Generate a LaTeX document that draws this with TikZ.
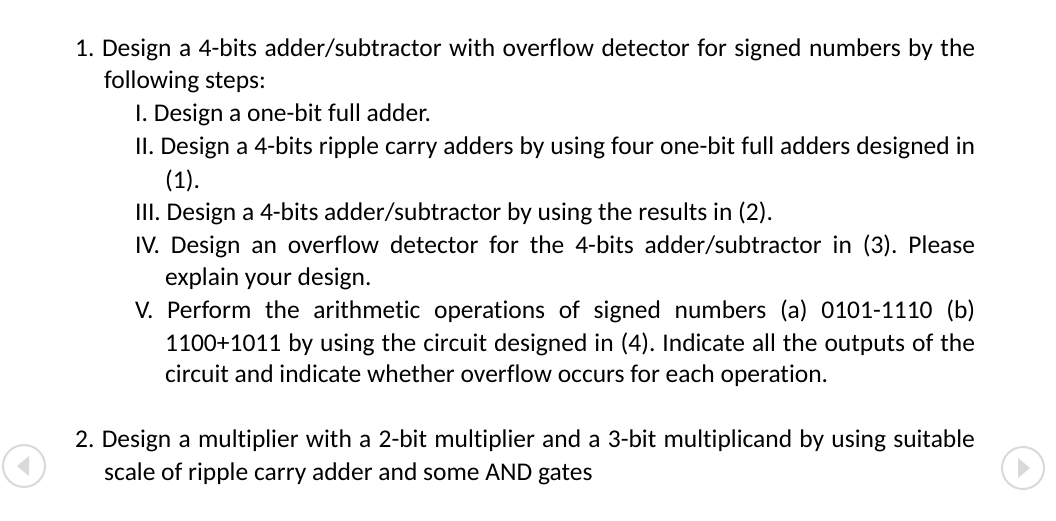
\documentclass[tikz,border=0pt]{standalone}
\usepackage{fontspec}
\setmainfont[Ligatures=NoCommon]{Carlito}
\begin{document}
\frenchspacing
\begin{tikzpicture}[x=1pt,y=-1pt,
  ln/.style={anchor=west,inner sep=0pt,font=\fontsize{25.5}{30}\selectfont},
  btn/.style={circle,draw=black!15,line width=2pt,minimum size=42pt,inner sep=0pt}]
\useasboundingbox[fill=white] (0,0) rectangle (1056,521);
\node[ln] (l1) at (75,50) {\makebox[900pt][s]{1. Design a 4-bits adder/subtractor with overflow detector for signed numbers by the}};
\node[ln] (l2) at (104,82) {following steps:};
\node[ln] (l3) at (135,115) {I. Design a one-bit full adder.};
\node[ln] (l4) at (135,148) {\makebox[840pt][s]{II. Design a 4-bits ripple carry adders by using four one-bit full adders designed in}};
\node[ln] (l5) at (165,181) {(1).};
\node[ln] (l6) at (135,213) {III. Design a 4-bits adder/subtractor by using the results in (2).};
\node[ln] (l7) at (135,246) {\makebox[840pt][s]{IV. Design an overflow detector for the 4-bits adder/subtractor in (3). Please}};
\node[ln] (l8) at (165,279) {explain your design.};
\node[ln] (l9) at (135,311) {\makebox[840pt][s]{V. Perform the arithmetic operations of signed numbers (a) 0101-1110 (b)}};
\node[ln] (l10) at (165,344) {\makebox[810pt][s]{1100+1011 by using the circuit designed in (4). Indicate all the outputs of the}};
\node[ln] (l11) at (165,376) {circuit and indicate whether overflow occurs for each operation.};
\node[ln] (l12) at (75,441) {\makebox[900pt][s]{2. Design a multiplier with a 2-bit multiplier and a 3-bit multiplicand by using suitable}};
\node[ln] (l13) at (104,474) {scale of ripple carry adder and some AND gates};
\node[btn] (bl) at (24,466) {};
\node[btn] (br) at (1023,468) {};
\fill[black!15] ([xshift=-7pt]bl.center) -- ++(12,-10) -- ++(0,20) -- cycle;
\fill[black!15] ([xshift=7pt]br.center) -- ++(-12,-10) -- ++(0,20) -- cycle;
\end{tikzpicture}
\end{document}
